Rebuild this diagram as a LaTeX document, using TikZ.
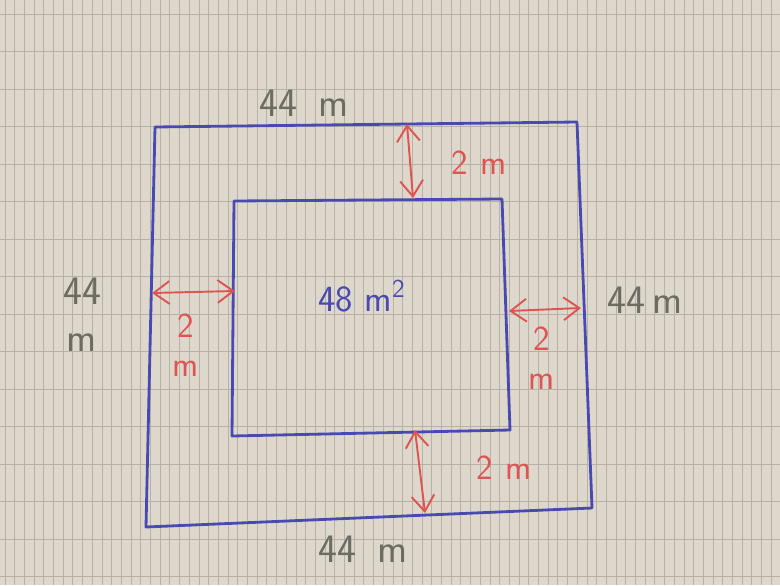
\documentclass[tikz,border=0pt]{standalone}
\usetikzlibrary{arrows.meta}
\definecolor{paper}{RGB}{222,216,204}
\definecolor{gridline}{RGB}{184,177,168}
\definecolor{pen}{RGB}{72,74,178}
\definecolor{redpen}{RGB}{222,84,82}
\definecolor{pencil}{RGB}{108,108,98}
\begin{document}
\begin{tikzpicture}[x=0.02cm,y=-0.02cm,
  wall/.style={draw=pen,line width=1.6pt,line join=round},
  dim/.style={draw=redpen,line width=1.1pt,{Straight Barb[length=9pt,width=13pt]}-{Straight Barb[length=9pt,width=13pt]}},
  side/.style={text=pencil,font=\sffamily\fontsize{23}{27}\selectfont,align=center},
  gap/.style={text=redpen,font=\sffamily\fontsize{20}{22}\selectfont,align=center}]
%paper
\fill[paper] (0,0) rectangle (780,585);
\useasboundingbox (0,0) rectangle (780,585);
%grid
\foreach \gx in {5,14.7,...,780} \draw[gridline,line width=0.5pt] (\gx,0) -- (\gx,585);
\foreach \gy in {14,51.5,...,585} \draw[gridline,line width=0.5pt] (0,\gy) -- (780,\gy);
%outer and inner walls
\coordinate (o1) at (155,127);
\coordinate (o2) at (577,122);
\coordinate (o3) at (592,508);
\coordinate (o4) at (146,527);
\coordinate (i1) at (234,201);
\coordinate (i2) at (502,199);
\coordinate (i3) at (510,430);
\coordinate (i4) at (232,436);
\draw[wall] (o1) -- (o2) -- (o3) -- (o4) -- cycle;
\draw[wall] (i1) -- (i2) -- (i3) -- (i4) -- cycle;
%gaps of 2 m
\coordinate (ta) at (407,124);
\coordinate (tb) at (413,198);
\coordinate (ba) at (415,430);
\coordinate (bb) at (425,513);
\coordinate (la) at (152,293);
\coordinate (lb) at (235,291);
\coordinate (ra) at (509,311);
\coordinate (rb) at (581,308);
\draw[dim] (ta) -- (tb);
\draw[dim] (ba) -- (bb);
\draw[dim] (la) -- (lb);
\draw[dim] (ra) -- (rb);
\node[gap] (gtop) at (479,163) {2\,\,m};
\node[gap] (gbot) at (504,468) {2\,\,m};
\node[gap] (gleft) at (186,345) {2\\m};
\node[gap] (gright) at (542,358) {2\\m};
%sides
\node[side] (stop) at (304,103) {44\,\,\,m};
\node[side] (sleft) at (82,315) {44\\m};
\node[side] (sright) at (645,300) {44\,m};
\node[side] (sbot) at (363,549) {44\,\,\,m};
\node[text=pen,font=\sffamily\fontsize{21}{23}\selectfont] (area) at (362,296) {48 m\textsuperscript{2}};
\end{tikzpicture}
\end{document}
